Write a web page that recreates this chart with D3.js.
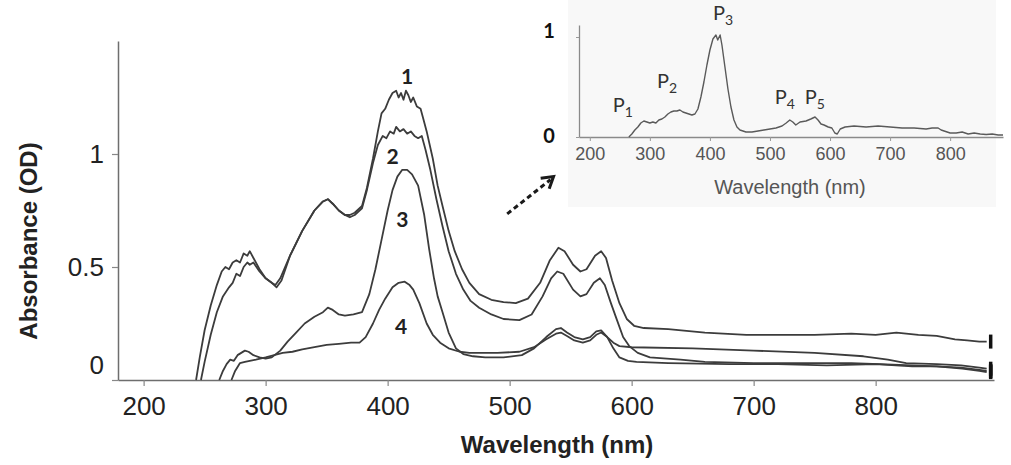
<!DOCTYPE html>
<html>
<head>
<meta charset="utf-8">
<script src="https://cdn.jsdelivr.net/npm/d3@7"></script>
<style>
  html, body { margin: 0; padding: 0; background: #fff; }
  svg { display: block; }
</style>
</head>
<body>
<div id="chart"></div>
<script>
// Spectres d'absorbance (courbes 1 à 4) : [longueur d'onde nm, absorbance OD]
const curve1 = [[243,0],[246,0.1],[250,0.22],[255,0.33],[260,0.42],[264,0.48],[267,0.5],[270,0.49],[273,0.52],[276,0.53],[279,0.52],[282,0.56],[285,0.55],[287,0.57],[290,0.54],[295,0.49],[300,0.45],[305,0.43],[308,0.42],[312,0.45],[320,0.55],[330,0.66],[340,0.75],[347,0.79],[351,0.8],[355,0.78],[360,0.75],[365,0.73],[369,0.73],[373,0.74],[379,0.77],[383,0.85],[388,0.98],[392,1.1],[395,1.18],[398,1.2],[401,1.24],[404,1.27],[407,1.28],[409,1.25],[411,1.27],[413,1.24],[415,1.28],[417,1.26],[419,1.23],[421,1.25],[424,1.21],[427,1.2],[429,1.16],[432,1.1],[437,0.98],[441,0.86],[445,0.77],[450,0.66],[455,0.57],[461,0.49],[467,0.43],[475,0.38],[485,0.355],[495,0.345],[505,0.34],[515,0.36],[525,0.43],[533,0.53],[540,0.585],[545,0.57],[552,0.51],[558,0.48],[563,0.49],[570,0.55],[575,0.57],[579,0.54],[584,0.44],[590,0.34],[596,0.27],[602,0.24],[610,0.23],[630,0.225],[660,0.21],[694,0.2],[720,0.2],[750,0.2],[780,0.205],[800,0.2],[817,0.21],[835,0.2],[850,0.195],[865,0.18],[875,0.175],[885,0.17],[891,0.17]];
const curve2 = [[247,0],[250,0.08],[255,0.2],[260,0.3],[265,0.37],[270,0.41],[273,0.43],[276,0.47],[279,0.46],[282,0.5],[285,0.52],[287,0.51],[290,0.52],[295,0.48],[300,0.45],[305,0.43],[309,0.41],[313,0.44],[320,0.55],[330,0.66],[340,0.75],[347,0.79],[351,0.8],[355,0.78],[360,0.75],[365,0.73],[369,0.72],[373,0.73],[379,0.76],[383,0.84],[388,0.96],[392,1.04],[396,1.08],[399,1.07],[402,1.1],[405,1.09],[407,1.12],[410,1.1],[413,1.11],[416,1.09],[419,1.1],[422,1.08],[425,1.07],[428,1.08],[431,1.02],[435,0.93],[440,0.8],[445,0.68],[450,0.57],[456,0.47],[462,0.4],[468,0.35],[475,0.32],[485,0.29],[495,0.27],[508,0.265],[518,0.29],[527,0.37],[534,0.45],[539,0.48],[544,0.47],[552,0.4],[558,0.37],[563,0.38],[569,0.43],[574,0.45],[578,0.42],[583,0.34],[588,0.265],[593,0.19],[598,0.15],[605,0.12],[615,0.1],[640,0.09],[660,0.08],[700,0.075],[740,0.075],[780,0.075],[803,0.07],[830,0.065],[850,0.06],[871,0.05],[885,0.04],[891,0.035]];
const curve3 = [[262,0],[265,0.04],[268,0.07],[271,0.09],[274,0.085],[277,0.11],[280,0.12],[283,0.13],[286,0.125],[290,0.11],[295,0.1],[300,0.095],[305,0.1],[312,0.13],[318,0.17],[325,0.21],[332,0.25],[340,0.28],[347,0.3],[351,0.32],[355,0.31],[360,0.29],[365,0.285],[372,0.29],[379,0.3],[385,0.38],[390,0.49],[395,0.62],[400,0.75],[404,0.84],[408,0.9],[412,0.93],[416,0.93],[420,0.91],[425,0.86],[430,0.73],[434,0.58],[438,0.45],[441,0.37],[445,0.3],[450,0.21],[456,0.14],[462,0.115],[470,0.105],[480,0.1],[495,0.1],[510,0.11],[520,0.14],[530,0.19],[538,0.225],[542,0.23],[547,0.21],[553,0.19],[560,0.18],[566,0.19],[571,0.215],[575,0.22],[580,0.19],[585,0.14],[590,0.1],[597,0.085],[604,0.08],[630,0.075],[680,0.07],[720,0.07],[760,0.065],[800,0.07],[830,0.06],[850,0.06],[870,0.055],[885,0.045],[891,0.04]];
const curve4 = [[272,0],[275,0.04],[279,0.075],[283,0.08],[287,0.085],[292,0.09],[300,0.1],[307,0.11],[314,0.12],[322,0.125],[330,0.135],[340,0.145],[350,0.155],[360,0.16],[370,0.165],[377,0.165],[382,0.19],[388,0.25],[393,0.31],[398,0.36],[404,0.41],[409,0.43],[414,0.435],[418,0.42],[421,0.4],[426,0.34],[432,0.25],[437,0.2],[443,0.165],[450,0.14],[459,0.125],[467,0.12],[475,0.12],[490,0.12],[508,0.125],[520,0.145],[530,0.18],[538,0.205],[542,0.21],[547,0.195],[553,0.175],[560,0.165],[566,0.175],[571,0.2],[575,0.21],[580,0.19],[585,0.165],[590,0.15],[600,0.145],[650,0.14],[700,0.13],[750,0.12],[790,0.105],[810,0.09],[825,0.075],[850,0.07],[870,0.065],[885,0.055],[891,0.05]];

// Spectre de l'encart (normalisé, pics P1..P5)
const insetCurve = [[265,0],[270,0.03],[275,0.07],[280,0.1],[285,0.14],[290,0.16],[295,0.15],[300,0.14],[305,0.15],[310,0.14],[315,0.17],[320,0.18],[325,0.2],[330,0.23],[335,0.25],[340,0.26],[345,0.26],[350,0.27],[355,0.25],[360,0.24],[365,0.23],[370,0.22],[375,0.23],[380,0.28],[385,0.4],[390,0.55],[395,0.72],[400,0.87],[405,0.98],[410,1.02],[413,0.97],[417,1.02],[420,0.92],[425,0.7],[430,0.48],[435,0.3],[440,0.17],[445,0.1],[450,0.07],[460,0.05],[470,0.05],[480,0.06],[490,0.07],[500,0.08],[510,0.09],[520,0.11],[527,0.14],[533,0.17],[538,0.15],[543,0.12],[550,0.15],[560,0.16],[568,0.18],[575,0.2],[580,0.17],[585,0.13],[590,0.12],[597,0.1],[603,0.09],[608,0.04],[612,0.03],[617,0.08],[625,0.1],[640,0.11],[660,0.1],[680,0.11],[700,0.1],[720,0.09],[740,0.09],[760,0.08],[770,0.09],[780,0.09],[785,0.07],[790,0.06],[800,0.04],[810,0.04],[820,0.05],[830,0.03],[840,0.04],[850,0.03],[860,0.025],[870,0.03],[880,0.02],[888,0.02]];

const curves = [curve1, curve2, curve3, curve4];
const curveNames = ["1", "2", "3", "4"];
// position des étiquettes des courbes [nm, OD]
const curveLabelPos = [[416, 1.345], [404, 0.987], [412, 0.712], [411, 0.235]];

const xTicks = [200, 300, 400, 500, 600, 700, 800];
const yTicks = [0, 0.5, 1];
const insetYTicks = [0, 1];

const peakNames = ["1", "2", "3", "4", "5"];
// position des étiquettes P (coin bas gauche) [nm, valeur]
const peakLabelPos = [[238, 0.25], [312, 0.49], [405, 1.17], [508, 0.33], [558, 0.33]];

const width = 1011, height = 465;

const svg = d3.select("#chart").append("svg")
    .attr("width", width)
    .attr("height", height);

// Échelles principales
const x = d3.scaleLinear().domain([179, 897]).range([118, 994]);
const y = d3.scaleLinear().domain([0, 1.5]).range([380, 41]);

// Encart (fond gris très clair)
svg.append("rect")
    .attr("x", 568).attr("y", 0)
    .attr("width", 428).attr("height", 207)
    .attr("fill", "#f8f8f8");

// Axe X principal
const xAxis = svg.append("g")
    .attr("transform", `translate(0,${y(0)})`)
    .call(d3.axisBottom(x).tickValues(xTicks).tickSize(6).tickSizeOuter(0).tickPadding(11));
xAxis.select(".domain").attr("stroke", "#6e6e6e").attr("stroke-width", 1.5);
xAxis.selectAll(".tick line").attr("stroke", "#888").attr("stroke-width", 1.2);
xAxis.selectAll("text")
    .attr("font-family", "Liberation Sans, Arial, sans-serif")
    .attr("font-size", 26)
    .attr("fill", "#222");

// Axe Y principal
const yAxis = svg.append("g")
    .attr("transform", `translate(${x(179)},0)`)
    .call(d3.axisLeft(y).tickValues(yTicks).tickFormat(d => d === 0 ? "0" : d3.format("")(d)).tickSize(6).tickSizeOuter(0).tickPadding(8));
yAxis.select(".domain").attr("stroke", "#6e6e6e").attr("stroke-width", 1.5);
yAxis.selectAll(".tick line").attr("stroke", "#888").attr("stroke-width", 1.2);
yAxis.selectAll("text")
    .attr("font-family", "Liberation Sans, Arial, sans-serif")
    .attr("font-size", 26)
    .attr("fill", "#222")
    .attr("dy", d => d === 0 ? "-0.25em" : "0.32em");

// Titres des axes
svg.append("text")
    .attr("x", 557).attr("y", 453)
    .attr("text-anchor", "middle")
    .attr("font-family", "Liberation Sans, Arial, sans-serif")
    .attr("font-weight", "bold")
    .attr("font-size", 24)
    .attr("fill", "#222")
    .text("Wavelength (nm)");

svg.append("text")
    .attr("transform", `translate(37,241) rotate(-90)`)
    .attr("text-anchor", "middle")
    .attr("font-family", "Liberation Sans, Arial, sans-serif")
    .attr("font-weight", "bold")
    .attr("font-size", 24)
    .attr("fill", "#222")
    .text("Absorbance (OD)");

// Courbes
const line = d3.line().x(d => x(d[0])).y(d => y(d[1]));
svg.append("g")
    .selectAll("path")
    .data(curves)
    .enter().append("path")
    .attr("d", line)
    .attr("fill", "none")
    .attr("stroke", "#3c3c3c")
    .attr("stroke-width", 1.8)
    .attr("stroke-linejoin", "round");

// Petites barres en fin de courbe
svg.append("g")
    .selectAll("line")
    .data(curves)
    .enter().append("line")
    .attr("x1", d => x(d[d.length - 1][0]) + 4)
    .attr("x2", d => x(d[d.length - 1][0]) + 4)
    .attr("y1", d => y(d[d.length - 1][1]) - 7)
    .attr("y2", d => y(d[d.length - 1][1]) + 7)
    .attr("stroke", "#111")
    .attr("stroke-width", 3.5);

// Numéros des courbes
svg.append("g")
    .selectAll("text")
    .data(curveNames)
    .enter().append("text")
    .attr("x", (d, i) => x(curveLabelPos[i][0]))
    .attr("y", (d, i) => y(curveLabelPos[i][1]))
    .attr("dy", "0.36em")
    .attr("text-anchor", "middle")
    .attr("font-family", "Lato, Liberation Sans, sans-serif")
    .attr("font-weight", "bold")
    .attr("font-size", 21)
    .attr("fill", "#222")
    .text(d => d);

// Flèche pointillée vers l'encart
const a0 = [x(498), y(0.735)], a1 = [x(536), y(0.9)];
svg.append("line")
    .attr("x1", a0[0]).attr("y1", a0[1])
    .attr("x2", a1[0] - 3).attr("y2", a1[1] + 3)
    .attr("stroke", "#1a1a1a")
    .attr("stroke-width", 3)
    .attr("stroke-dasharray", "5,3.5");
const ang = Math.atan2(a1[1] - a0[1], a1[0] - a0[0]);
const headLen = 13, spread = 0.55;
svg.append("path")
    .attr("d", `M${a1[0] - headLen * Math.cos(ang - spread)},${a1[1] - headLen * Math.sin(ang - spread)}L${a1[0]},${a1[1]}L${a1[0] - headLen * Math.cos(ang + spread)},${a1[1] - headLen * Math.sin(ang + spread)}`)
    .attr("fill", "none")
    .attr("stroke", "#1a1a1a")
    .attr("stroke-width", 3);

// ---- Encart ----
const xi = d3.scaleLinear().domain([182, 888]).range([579, 1003]);
const yi = d3.scaleLinear().domain([0, 1.12]).range([137, 25]);

const xiAxis = svg.append("g")
    .attr("transform", `translate(0,${yi(0)})`)
    .call(d3.axisBottom(xi).tickValues(xTicks).tickSize(4).tickSizeOuter(0).tickPadding(6));
xiAxis.select(".domain").attr("stroke", "#8a8a8a").attr("stroke-width", 1.3);
xiAxis.selectAll(".tick line").attr("stroke", "#999");
xiAxis.selectAll("text")
    .attr("font-family", "Liberation Sans, Arial, sans-serif")
    .attr("font-size", 18)
    .attr("fill", "#555");

const yiAxis = svg.append("g")
    .attr("transform", `translate(${xi(182)},0)`)
    .call(d3.axisLeft(yi).tickValues(insetYTicks).tickSize(3).tickSizeOuter(0).tickFormat(""));
yiAxis.select(".domain").attr("stroke", "#8a8a8a").attr("stroke-width", 1.3);
yiAxis.selectAll(".tick line").attr("stroke", "#999");

// Étiquettes 0 et 1 de l'encart (en gras, décalées à gauche)
svg.append("g")
    .selectAll("text")
    .data(insetYTicks)
    .enter().append("text")
    .attr("x", 549)
    .attr("y", d => yi(d) + (d === 0 ? -1 : -6))
    .attr("dy", "0.35em")
    .attr("text-anchor", "middle")
    .attr("font-family", "Lato, Liberation Sans, sans-serif")
    .attr("font-weight", "bold")
    .attr("font-size", 20)
    .attr("fill", "#111")
    .text(d => d);

svg.append("text")
    .attr("x", 790).attr("y", 194)
    .attr("text-anchor", "middle")
    .attr("font-family", "Liberation Sans, Arial, sans-serif")
    .attr("font-size", 20)
    .attr("fill", "#555")
    .text("Wavelength (nm)");

const lineInset = d3.line().x(d => xi(d[0])).y(d => yi(d[1]));
svg.append("path")
    .datum(insetCurve)
    .attr("d", lineInset)
    .attr("fill", "none")
    .attr("stroke", "#5a5a5a")
    .attr("stroke-width", 1.4)
    .attr("stroke-linejoin", "round");

// Étiquettes des pics P1..P5
const peaks = svg.append("g")
    .selectAll("text")
    .data(peakNames)
    .enter().append("text")
    .attr("x", (d, i) => xi(peakLabelPos[i][0]))
    .attr("y", (d, i) => yi(peakLabelPos[i][1]))
    .attr("font-family", "Lato, Liberation Sans, sans-serif")
    .attr("font-size", 20)
    .attr("fill", "#333");
peaks.append("tspan").text("P");
peaks.append("tspan")
    .attr("font-size", 14)
    .attr("dy", 5)
    .text(d => d);
</script>
</body>
</html>
